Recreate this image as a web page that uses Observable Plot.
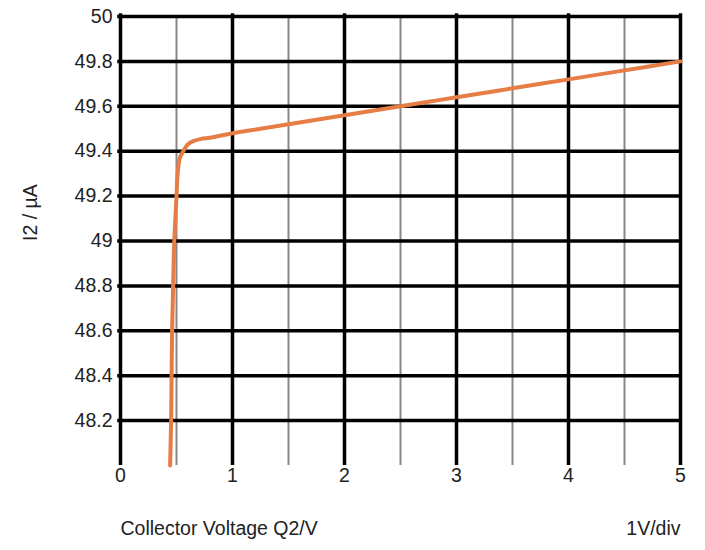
<!DOCTYPE html>
<html>
<head>
<meta charset="utf-8">
<script src="https://cdn.jsdelivr.net/npm/d3@7"></script>
<script src="https://cdn.jsdelivr.net/npm/@observablehq/plot@0.6"></script>
<style>
  html, body { margin: 0; padding: 0; background: #fff; }
  #chart { width: 705px; height: 550px; }
</style>
</head>
<body>
<div id="chart"></div>
<script>
const voltage = [0.443, 0.452, 0.456, 0.461, 0.470, 0.480, 0.490, 0.500, 0.510, 0.530, 0.560, 0.600, 0.650, 0.720, 0.800, 0.900, 1.000, 1.250, 1.500, 1.750, 2.000, 2.250, 2.500, 2.750, 3.000, 3.500, 4.000, 4.500, 5.000];
const current = [48.0, 48.2, 48.4, 48.6, 48.8, 49.0, 49.1, 49.2, 49.3, 49.37, 49.40, 49.43, 49.445, 49.455, 49.46, 49.47, 49.48, 49.50, 49.52, 49.54, 49.56, 49.58, 49.60, 49.62, 49.64, 49.68, 49.72, 49.76, 49.80];
const xMajor = [0, 1, 2, 3, 4, 5];
const xMinor = [0.5, 1.5, 2.5, 3.5, 4.5];
const yTicks = [48.2, 48.4, 48.6, 48.8, 49, 49.2, 49.4, 49.6, 49.8, 50];
const xLabel = "Collector Voltage Q2/V";
const yLabel = "I2 / µA";
const scaleNote = "1V/div";

const data = voltage.map((v, i) => ({v, i: current[i]}));
const FS = 19.5;
const ink = "#222";

const chart = Plot.plot({
  width: 705,
  height: 550,
  marginLeft: 120,
  marginRight: 25,
  marginTop: 16,
  marginBottom: 85,
  style: {fontFamily: "'Liberation Sans', Arial, sans-serif", color: ink, background: "#fff"},
  x: {domain: [0, 5]},
  y: {domain: [48, 50]},
  marks: [
    Plot.ruleX(xMinor, {y1: 48, y2: 50, stroke: "#888", strokeWidth: 2}),
    Plot.ruleY(yTicks, {x1: -0.025, x2: 5, stroke: "#000", strokeWidth: 3.5}),
    Plot.ruleX(xMajor, {y1: 48, y2: 50.012, stroke: "#000", strokeWidth: 3.5}),
    Plot.line(data, {x: "v", y: "i", stroke: "#e57d45", strokeWidth: 4, curve: "catmull-rom"}),
    Plot.axisX(xMajor, {tickSize: 0, tickPadding: 3, label: null, fontSize: FS, fill: ink, tickFormat: d => String(d)}),
    Plot.axisY(yTicks, {tickSize: 0, tickPadding: 8, label: null, fontSize: FS, fill: ink, tickFormat: d => String(+d.toFixed(1))}),
    Plot.text([xLabel], {frameAnchor: "bottom-left", textAnchor: "start", dy: 69, fontSize: FS, fill: ink}),
    Plot.text([scaleNote], {frameAnchor: "bottom-right", textAnchor: "end", dy: 69, fontSize: FS, fill: ink}),
    Plot.text([yLabel], {frameAnchor: "left", rotate: -90, dx: -90, fontSize: FS, fill: ink})
  ]
});
document.getElementById("chart").appendChild(chart);
</script>
</body>
</html>
